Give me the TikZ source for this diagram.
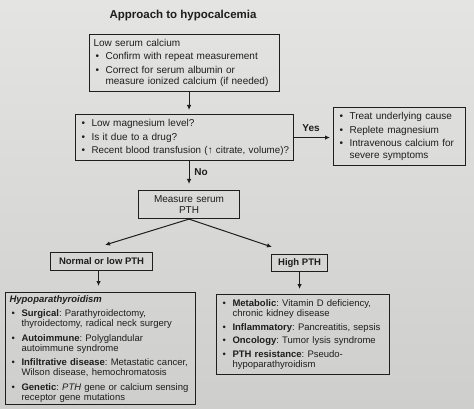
\documentclass[tikz,border=0pt]{standalone}
\usepackage{fontspec}
\setmainfont{Liberation Sans}
\usetikzlibrary{arrows.meta,calc}
\frenchspacing
\definecolor{ink}{RGB}{30,30,30}
\definecolor{bgtop}{RGB}{228,228,226}
\definecolor{bgbot}{RGB}{206,206,204}
\newcommand{\bul}[1]{\hangindent=12pt\hangafter=1\noindent\makebox[12pt][l]{\hspace{2pt}\textbullet}#1\par}
\tikzset{
  box/.style={draw=ink, line width=1.1pt, inner xsep=4pt, inner ysep=2pt, anchor=north west, align=left, text=ink, font=\fontsize{10}{11.5}\selectfont},
  smallbox/.style={box, font=\fontsize{9.5}{10.5}\selectfont},
  lbl/.style={text=ink, font=\fontsize{10}{12}\selectfont\bfseries},
  arr/.style={draw=ink, line width=1pt, -{Latex[length=5pt,width=4.5pt]}}
}
\begin{document}
\begin{tikzpicture}[x=1pt,y=-1pt]
\shade[top color=bgtop, bottom color=bgbot] (0,0) rectangle (474,409);
\useasboundingbox (0,0) rectangle (474,409);

\node[text=ink, font=\fontsize{11.5}{13}\selectfont\bfseries] (title) at (183,16) {Approach to hypocalcemia};

\node[box, text width=182pt, minimum height=57pt] (b1) at (89,34) {%
Low serum calcium\par\vspace{2pt}
\bul{Confirm with repeat measurement}\vspace{2pt}
\bul{Correct for serum albumin or\newline measure ionized calcium (if needed)}};

\node[box, text width=210pt, minimum height=46pt] (b2) at (75,114) {%
\bul{Low magnesium level?}\vspace{2pt}
\bul{Is it due to a drug?}\vspace{2pt}
\bul{\mbox{\fontsize{9.8}{11.5}\selectfont Recent blood transfusion (↑ citrate, volume)?}}};

\node[box, text width=124pt, minimum height=58pt] (b3) at (333,107) {%
\bul{Treat underlying cause}\vspace{2pt}
\bul{Replete magnesium}\vspace{2pt}
\bul{Intravenous calcium for\newline severe symptoms}};

\node[box, align=center, text width=93pt, minimum height=28pt] (b4) at (138,190) {Measure serum\\PTH};

\node[box, align=center, inner xsep=0pt, minimum width=102pt, minimum height=18pt, font=\fontsize{9.5}{11}\selectfont\bfseries] (b5) at (50,252) {Normal or low PTH};
\node[box, align=center, inner xsep=0pt, minimum width=56pt, minimum height=17pt, font=\fontsize{9.5}{11}\selectfont\bfseries] (b6) at (271,254) {High PTH};

\node[smallbox, font=\fontsize{9.5}{10}\selectfont, text width=182pt, minimum height=112pt] (b7) at (5,292) {%
\textbf{\textit{Hypoparathyroidism}}\par\vspace{4.5pt}
\bul{\textbf{Surgical}: Parathyroidectomy,\newline thyroidectomy, radical neck surgery}\vspace{4.5pt}
\bul{\textbf{Autoimmune}: Polyglandular\newline autoimmune syndrome}\vspace{4.5pt}
\bul{\textbf{Infiltrative disease}: Metastatic cancer,\newline Wilson disease, hemochromatosis}\vspace{4.5pt}
\bul{\textbf{Genetic}: \textit{PTH} gene or calcium sensing\newline receptor gene mutations}};

\node[smallbox, text width=165pt, minimum height=80pt] (b8) at (216,294) {%
\bul{\textbf{Metabolic}: Vitamin D deficiency,\newline chronic kidney disease}\vspace{3pt}
\bul{\mbox{\textbf{Inflammatory}: Pancreatitis, sepsis}}\vspace{3pt}
\bul{\textbf{Oncology}: Tumor lysis syndrome}\vspace{3pt}
\bul{\textbf{PTH resistance}: Pseudo-\newline hypoparathyroidism}};

\coordinate (tipL) at (105,245);
\coordinate (tipR) at (272,247);

\draw[arr, shorten >=4pt] (b4.north |- b1.south) -- (b4.north |- b2.north);
\draw[arr, shorten >=6pt] (b4.north |- b2.south) -- (b4.north);
\draw[arr, shorten >=3pt] (b2.east) -- (b2.east -| b3.west);
\draw[arr] (b4.south) -- (tipL);
\draw[arr] (b4.south) -- (tipR);
\draw[arr, shorten >=6pt] ([xshift=-3pt]b5.south) -- ([xshift=-3pt]b5.south |- b7.north);
\draw[arr, shorten >=5pt] (b6.south) -- (b6.south |- b8.north);

\node[lbl] (yes) at (311,128) {Yes};
\node[lbl] (no) at (201,172) {No};
\end{tikzpicture}
\end{document}
